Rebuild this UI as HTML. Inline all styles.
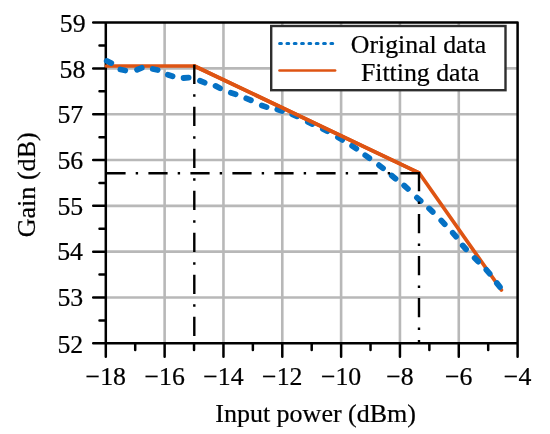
<!DOCTYPE html>
<html><head><meta charset="utf-8"><title>Gain vs Input power</title>
<style>html,body{margin:0;padding:0;background:#fff;width:550px;height:434px;overflow:hidden}svg{display:block;filter:blur(0.25px)}</style>
</head><body>
<svg width="550" height="434" viewBox="0 0 550 434"><line x1="164.63" y1="22.60" x2="164.63" y2="343.30" stroke="#b8b8b8" stroke-width="2.6"/>
<line x1="223.46" y1="22.60" x2="223.46" y2="343.30" stroke="#b8b8b8" stroke-width="2.6"/>
<line x1="282.29" y1="22.60" x2="282.29" y2="343.30" stroke="#b8b8b8" stroke-width="2.6"/>
<line x1="341.11" y1="22.60" x2="341.11" y2="343.30" stroke="#b8b8b8" stroke-width="2.6"/>
<line x1="399.94" y1="22.60" x2="399.94" y2="343.30" stroke="#b8b8b8" stroke-width="2.6"/>
<line x1="458.77" y1="22.60" x2="458.77" y2="343.30" stroke="#b8b8b8" stroke-width="2.6"/>
<line x1="105.80" y1="297.49" x2="517.60" y2="297.49" stroke="#b8b8b8" stroke-width="2.6"/>
<line x1="105.80" y1="251.67" x2="517.60" y2="251.67" stroke="#b8b8b8" stroke-width="2.6"/>
<line x1="105.80" y1="205.86" x2="517.60" y2="205.86" stroke="#b8b8b8" stroke-width="2.6"/>
<line x1="105.80" y1="160.04" x2="517.60" y2="160.04" stroke="#b8b8b8" stroke-width="2.6"/>
<line x1="105.80" y1="114.23" x2="517.60" y2="114.23" stroke="#b8b8b8" stroke-width="2.6"/>
<line x1="105.80" y1="68.41" x2="517.60" y2="68.41" stroke="#b8b8b8" stroke-width="2.6"/>
<path d="M105.80 22.60V356.70M517.60 22.60V356.70M93.20 22.60H517.60M93.20 343.30H517.60M93.20 297.49H105.80M93.20 251.67H105.80M93.20 205.86H105.80M93.20 160.04H105.80M93.20 114.23H105.80M93.20 68.41H105.80M99.50 320.39H105.80M99.50 274.58H105.80M99.50 228.76H105.80M99.50 182.95H105.80M99.50 137.14H105.80M99.50 91.32H105.80M99.50 45.51H105.80M164.63 343.30V356.70M223.46 343.30V356.70M282.29 343.30V356.70M341.11 343.30V356.70M399.94 343.30V356.70M458.77 343.30V356.70M135.21 343.30V349.90M194.04 343.30V349.90M252.87 343.30V349.90M311.70 343.30V349.90M370.53 343.30V349.90M429.36 343.30V349.90M488.19 343.30V349.90" fill="none" stroke="#000" stroke-width="2.5" stroke-linecap="round"/>
<path d="M106.4 66.0 L194.3 66.0 L419.0 172.8 L501.4 290.0" fill="none" stroke="#de5413" stroke-width="3.7" stroke-linejoin="round" stroke-linecap="round"/>
<path d="M106.73 60.96L111.27 63.04M120.35 69.51L125.25 70.49M137.08 69.73L141.72 67.87M152.75 68.99L157.65 70.01M167.85 74.65L172.55 76.35M183.61 78.00L188.59 77.60M199.98 80.77L204.62 82.63M215.59 85.93L220.01 88.27M230.81 92.76L235.59 94.24M246.29 98.35L250.91 100.25M261.84 105.47L266.56 107.13M277.30 109.49L282.10 110.91M292.30 114.33L296.90 116.27M307.85 121.91L312.35 124.09M322.88 128.85L327.32 131.15M337.95 137.33L342.25 139.87M352.12 145.82L356.28 148.58M365.28 155.23L369.32 158.17M379.02 165.17L382.98 168.23M391.67 175.51L395.53 178.69M404.12 185.55L407.88 188.85M416.96 197.60L420.64 201.00M429.09 208.47L432.71 211.93M441.27 220.60L444.73 224.20M452.77 232.80L456.03 236.60M462.75 245.52L466.05 249.28M474.66 258.01L478.14 261.59M486.36 269.81L489.64 273.59M496.87 283.13L499.93 287.07" fill="none" stroke="#0571c4" stroke-width="5.8" stroke-linecap="round"/>
<path d="M194.3 66.0 L419.0 172.8" fill="none" stroke="#de5413" stroke-width="3.7" stroke-linejoin="round" stroke-linecap="round"/>
<path d="M419.6 173.2H105.8" fill="none" stroke="#000" stroke-width="2.4" stroke-dasharray="19.2 10.3 2.4 10.1"/>
<path d="M419.0 172.0V343.3" fill="none" stroke="#000" stroke-width="2.4" stroke-dasharray="19.2 10.3 2.4 10.1"/>
<path d="M194.3 64.8V343.3" fill="none" stroke="#000" stroke-width="2.4" stroke-dasharray="19.2 10.3 2.4 10.1"/>
<rect x="271.2" y="26.0" width="234.3" height="64.2" fill="#fff" stroke="#2e2e2e" stroke-width="2.4"/>
<path d="M279.6 43.4H334" fill="none" stroke="#0571c4" stroke-width="3" stroke-linecap="round" stroke-dasharray="1.8 5.53"/>
<path d="M279.5 70.5H335.1" fill="none" stroke="#de5413" stroke-width="2.6" stroke-linecap="round"/>
<g font-family="'Liberation Serif', 'Times New Roman', serif" fill="#000" stroke="#000" stroke-width="0.22"><text x="418.5" y="53.0" text-anchor="middle" font-size="25.8">Original data</text><text x="420" y="80.6" text-anchor="middle" font-size="25.8">Fitting data</text><text x="83.2" y="352.70" text-anchor="end" font-size="25.8">52</text><text x="83.2" y="306.49" text-anchor="end" font-size="25.8">53</text><text x="83.0" y="260.47" text-anchor="end" font-size="25.8">54</text><text x="83.2" y="215.16" text-anchor="end" font-size="25.8">55</text><text x="83.2" y="169.24" text-anchor="end" font-size="25.8">56</text><text x="83.2" y="123.43" text-anchor="end" font-size="25.8">57</text><text x="85.4" y="78.31" text-anchor="end" font-size="25.8">58</text><text x="85.6" y="32.30" text-anchor="end" font-size="25.8">59</text><text x="105.80" y="384.7" text-anchor="middle" font-size="25.8">−18</text><text x="164.63" y="384.7" text-anchor="middle" font-size="25.8">−16</text><text x="223.46" y="384.7" text-anchor="middle" font-size="25.8">−14</text><text x="282.29" y="384.7" text-anchor="middle" font-size="25.8">−12</text><text x="341.11" y="384.7" text-anchor="middle" font-size="25.8">−10</text><text x="399.94" y="384.7" text-anchor="middle" font-size="25.8">−8</text><text x="458.77" y="384.7" text-anchor="middle" font-size="25.8">−6</text><text x="517.60" y="384.7" text-anchor="middle" font-size="25.8">−4</text><text x="315.6" y="421.9" text-anchor="middle" font-size="26.0">Input power (dBm)</text><text transform="translate(34.5 184.8) rotate(-90)" text-anchor="middle" font-size="26.1">Gain (dB)</text></g></svg>
</body></html>
